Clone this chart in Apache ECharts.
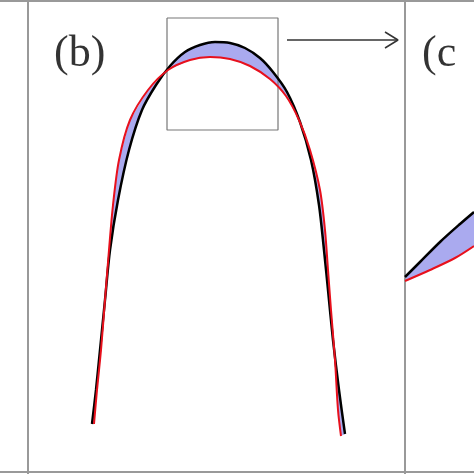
<!DOCTYPE html><html><head><meta charset="utf-8"><script src="https://cdn.jsdelivr.net/npm/echarts@6/dist/echarts.min.js"></script>
<style>html,body{margin:0;padding:0;background:#fff}#c{width:474px;height:474px}</style></head><body><div id="c"></div><script>
const blackB=[[92,424],[96,390],[100,350],[105,300],[110,250],[118,200],[129,150],[142,110],[156,85],[170,66],[185,52],[200,45],[215,42],[230,43],[245,48],[260,58],[273,72],[287,92],[300,122],[311,160],[319,205],[324,250],[328,290],[333,340],[339,390],[345,434]];
const redB=[[94,424],[97,390],[101,350],[105,300],[109,250],[113,205],[119,160],[130,120],[148,90],[168,70],[190,60],[210,57],[230,59],[250,66],[270,79],[286,96],[299,120],[310,150],[320,190],[325,230],[328,270],[331,310],[335,360],[338,410],[341,436]];
const blackC=[[405,277],[420,262],[440,242],[460,224],[474,212]];
const redC=[[405,281],[430,270],[455,258],[474,246]];
const boxPts=[[167,18],[278,18],[278,130],[167,130],[167,18]];
const arrowPts=[[287,40],[398,40]];
const headPts=[[385,32],[398,40],[385,48]];
const borders=[[[28,0],[28,474]],[[405,0],[405,474]],[[0,1],[474,1]],[[0,472],[474,472]]];
const labels=[{t:'(b)',x:49,y:70},{t:'(c',x:417,y:70}];
function fillSeries(b,r){return {type:'custom',coordinateSystem:'cartesian2d',data:[0],z:1,renderItem:(p,api)=>{
 const pts=b.map(q=>api.coord(q)).concat(r.slice().reverse().map(q=>api.coord(q)));
 return {type:'polygon',shape:{points:pts},style:{fill:'rgba(100,100,225,0.55)'}};}};}
const line=(d,c,w)=>({type:'line',data:d,showSymbol:false,smooth:0.3,lineStyle:{color:c,width:w},z:3,animation:false});
const straight=(d,c,w)=>({type:'line',data:d,showSymbol:false,lineStyle:{color:c,width:w},z:2,animation:false});
const ch=echarts.init(document.getElementById('c'));
ch.setOption({animation:false,grid:{left:0,right:0,top:0,bottom:0},
xAxis:{type:'value',min:0,max:474,show:false},yAxis:{type:'value',min:0,max:474,inverse:true,show:false},
series:[fillSeries(blackB,redB),fillSeries(blackC,redC),
 line(blackB,'#000',2.5),line(redB,'#e8101c',2),line(blackC,'#000',2.5),line(redC,'#e8101c',2),
 straight(boxPts,'#777',1.2),straight(arrowPts,'#333',1.5),straight(headPts,'#333',1.5),
 ...borders.map(b=>straight(b,'#999',2)),
 {type:'scatter',data:labels.map(l=>[l.x,l.y]),symbolSize:0,label:{show:true,position:'insideLeft',formatter:p=>labels[p.dataIndex].t,fontFamily:'Liberation Serif',fontSize:44,color:'#000',offset:[0,-16]}}]});
</script></body></html>
